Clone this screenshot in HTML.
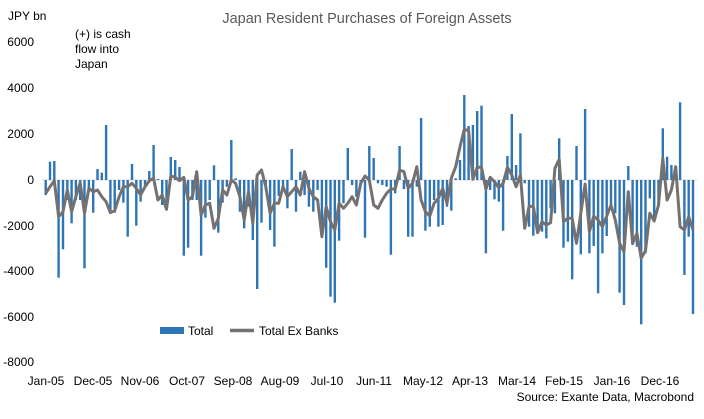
<!DOCTYPE html>
<html><head><meta charset="utf-8"><style>
body{margin:0;background:#fff;width:704px;height:414px;overflow:hidden;font-family:"Liberation Sans",sans-serif}
svg text{font-family:"Liberation Sans",sans-serif}
</style></head><body>
<svg id="s" width="704" height="414" xmlns="http://www.w3.org/2000/svg">
<rect width="704" height="414" fill="#fff"/>
<text x="367" y="23" font-size="14.5" fill="#595959" text-anchor="middle">Japan Resident Purchases of Foreign Assets</text>
<text x="8" y="20" font-size="12" fill="#000">JPY bn</text>
<text x="75" y="38" font-size="12" fill="#000">(+) is cash</text>
<text x="75" y="53" font-size="12" fill="#000">flow into</text>
<text x="75" y="68" font-size="12" fill="#000">Japan</text>
<g font-size="12" fill="#000" text-anchor="end">
<text x="34" y="46">6000</text><text x="34" y="92">4000</text><text x="34" y="138">2000</text>
<text x="34" y="184">0</text><text x="34" y="230">-2000</text><text x="34" y="275">-4000</text>
<text x="34" y="321">-6000</text><text x="34" y="366">-8000</text>
</g>
<g font-size="12" fill="#000" text-anchor="middle">
<text x="46" y="385">Jan-05</text><text x="93" y="385">Dec-05</text><text x="140" y="385">Nov-06</text>
<text x="187" y="385">Oct-07</text><text x="233" y="385">Sep-08</text><text x="280" y="385">Aug-09</text>
<text x="327" y="385">Jul-10</text><text x="374" y="385">Jun-11</text><text x="423" y="385">May-12</text>
<text x="470" y="385">Apr-13</text><text x="517" y="385">Mar-14</text><text x="564" y="385">Feb-15</text>
<text x="612" y="385">Jan-16</text><text x="660" y="385">Dec-16</text>
</g>
<text x="694" y="401" font-size="12" fill="#000" text-anchor="end">Source: Exante Data, Macrobond</text>
<rect x="160" y="327" width="24" height="7" fill="#2e75b6"/>
<text x="188" y="335" font-size="12" fill="#000">Total</text>
<line x1="230" y1="330.5" x2="254" y2="330.5" stroke="#767171" stroke-width="3.5"/>
<text x="259" y="335" font-size="12" fill="#000">Total Ex Banks</text>
<line x1="42" y1="180" x2="697" y2="180" stroke="#d9d9d9" stroke-width="1"/>
<g id="bars" fill="#2e75b6"></g>
<polyline id="ln" fill="none" stroke="#767171" stroke-width="3" stroke-linejoin="round" points="0,0"/>
</svg>
<script>
(function(){
var NS="http://www.w3.org/2000/svg";
var z1=[315,215,213,563,478,330,400,330,330,535,300,368,237,248,105,368,368,300,338,440,222,407,335,290,243,165,267,345,360,201,210,231,497,473,330,330,497,383,330,226,428,338,290,150,265,365,415,350,450,597];
var z2=[398,300,420,470,318,290,355,177,365,245,315,350,365,300,440,533,620,638,452,340,174,285,320,280,443,168,204,280,285,290,494,310,168,297,440,440,290,84,422,410,330,410,405,350,362,265,210,15,108];
var z3=[105,63,47,490,300,328,335,422,198,72,225,130,280,410,437,430,425,445,355,370,145,473,455,568,168,493,57,490,468,610,490,438,350,370,608,645,228,465,470,703,490,325,390,350,115,200,225,260,37,555,440,672];
var l1=[310,290,272,380,365,300,365,320,278,370,295,305,300,320,335,368,362,320,290,290,280,295,315,290,272,265,330,315,358,258,262,272,262,330,320,245,375,345,340,415,385,300,315,270,280,320,390,305,400,255];
var l2=[240,290,370,340,340,290,320,305,290,315,245,295,320,330,440,350,395,420,340,355,340,320,345,280,258,270,345,355,330,310,297,297,240,245,295,280,230,330,365,378,340,325,295,340,265,230,170,118,122];
var l3=[268,232,232,298,262,275,293,280,232,255,290,255,415,350,348,428,395,405,398,235,208,395,385,385,460,370,282,425,378,390,410,378,345,390,460,485,305,460,430,505,482,370,393,345,205,330,300,230,410,420,380,420];
var b=z1.concat(z2,z3), l=l1.concat(l2,l3);
var n=b.length, x0=45.7, step=(693-x0)/(n-1);
var g=document.getElementById('bars'), pts=[];
for(var i=0;i<n;i++){
 var x=x0+i*step, y=90+b[i]/3;
 var top=Math.min(y,180), ht=Math.abs(y-180);
 var r=document.createElementNS(NS,'rect');
 r.setAttribute('x',(x-1.2).toFixed(1));
 r.setAttribute('y',top.toFixed(1));
 r.setAttribute('width','2.4');
 r.setAttribute('height',ht.toFixed(1));
 g.appendChild(r);
 pts.push(x.toFixed(1)+','+(90+l[i]/3).toFixed(1));
}
document.getElementById('ln').setAttribute('points',pts.join(' '));
})();
</script>
</body></html>
